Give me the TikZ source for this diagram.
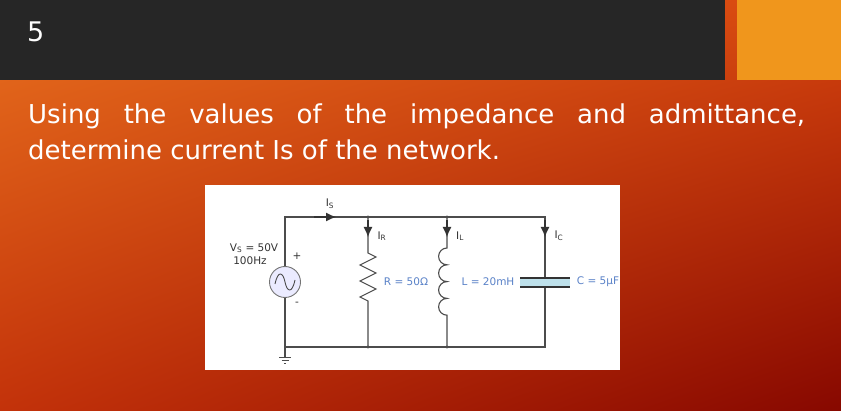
\documentclass[tikz,border=0pt]{standalone}
\usepackage{fontspec}
\setmainfont{DejaVu Sans}
\usetikzlibrary{arrows.meta,shadings}
\definecolor{ul}{RGB}{232,112,30}
\definecolor{ur}{RGB}{215,70,15}
\definecolor{ll}{RGB}{195,50,10}
\definecolor{lr}{RGB}{135,8,0}
\definecolor{orsq}{RGB}{240,150,28}
\definecolor{capc}{RGB}{190,225,235}
\definecolor{lblue}{RGB}{90,130,200}
\begin{document}
\begin{tikzpicture}[x=1pt,y=-1pt,
  wire/.style={draw=black!70,line width=1.1pt},
  lbl/.style={font=\fontsize{10.5}{11}\selectfont,text=black!80,inner sep=1pt},
  blbl/.style={font=\fontsize{10.5}{11}\selectfont,text=lblue,inner sep=1pt},
  cur/.style={-{Latex[length=10pt,width=9pt]},draw=black!80,line width=1.1pt}]
\useasboundingbox (0,0) rectangle (841,411);
\shade[upper left=ul,upper right=ur,lower left=ll,lower right=lr] (0,0) rectangle (841,411);
\fill[black!85] (0,0) rectangle (725,80);
\fill[orsq] (737,0) rectangle (841,80);
\node[text=white,font=\fontsize{27}{28}\selectfont,anchor=base west,inner sep=0] (num) at (27,42) {5};
\node[text=white,font=\fontsize{26}{26}\selectfont,anchor=base west,inner sep=0] (t1) at (28,124)
 {\makebox[777pt][s]{Using\hfill the\hfill values\hfill of\hfill the\hfill impedance\hfill and\hfill admittance,}};
\node[text=white,font=\fontsize{26}{26}\selectfont,anchor=base west,inner sep=0] (t2) at (28,160)
 {determine current Is of the network.};
\fill[white] (205,185) rectangle (620,370);
\coordinate (tl) at (285,217); \coordinate (bl) at (285,347);
\coordinate (tr) at (368,217); \coordinate (br) at (368,347);
\coordinate (tL) at (447,217); \coordinate (bL) at (447,347);
\coordinate (tc) at (545,217); \coordinate (bc) at (545,347);
\node[circle,draw=black!55,fill=blue!8,line width=0.9pt,minimum size=31pt,inner sep=0] (src) at (285,282) {};
\draw[black!70,line width=0.9pt] (275,284) .. controls (278,270) and (283,272) .. (285,282) .. controls (287,292) and (292,294) .. (295,280);
\draw[wire] (src.north) -- (tl) -- (tc) -- (545,278);
\draw[wire] (src.south) -- (bl) -- (bc) -- (545,287);
\draw[wire] (tr) -- (368,253) -- (376,257) -- (360,265) -- (376,273) -- (360,281) -- (376,289) -- (360,297) -- (368,301) -- (br);
\draw[wire] (tL) -- (447,248) arc (270:90:8.4) arc (270:90:8.4) arc (270:90:8.4) arc (270:90:8.4) -- (bL);
\fill[capc] (520,278) rectangle (570,287);
\draw[black!80,line width=1.8pt] (520,278) -- (570,278) (520,287) -- (570,287);
\foreach \p in {tr,tL,br,bL}{\fill[black!70] (\p) circle (1.6pt);}
\draw[wire] (bl) -- (285,357);
\draw[black!70,line width=0.9pt] (279,357) -- (291,357) (281.5,360) -- (288.5,360) (284,363) -- (286,363);
\draw[cur] (314,217) -- (336,217);
\draw[cur] (368,220) -- (368,237);
\draw[cur] (447,220) -- (447,237);
\draw[cur] (545,220) -- (545,237);
\node[lbl] (is) at (330,204) {I\textsubscript{S}};
\node[lbl] (ir) at (382,236) {I\textsubscript{R}};
\node[lbl] (il) at (460,236) {I\textsubscript{L}};
\node[lbl] (ic) at (559,236) {I\textsubscript{C}};
\node[lbl] (vs) at (254,248) {V\textsubscript{S} = 50V};
\node[lbl] (hz) at (250,261) {100Hz};
\node[lbl] (pl) at (297,256) {+};
\node[lbl] (mi) at (297,304) {-};
\node[blbl] (rl) at (406,282) {R = 50Ω};
\node[blbl] (lL) at (488,282) {L = 20mH};
\node[blbl] (cl) at (598,282) {C = 5µF};
\end{tikzpicture}
\end{document}
